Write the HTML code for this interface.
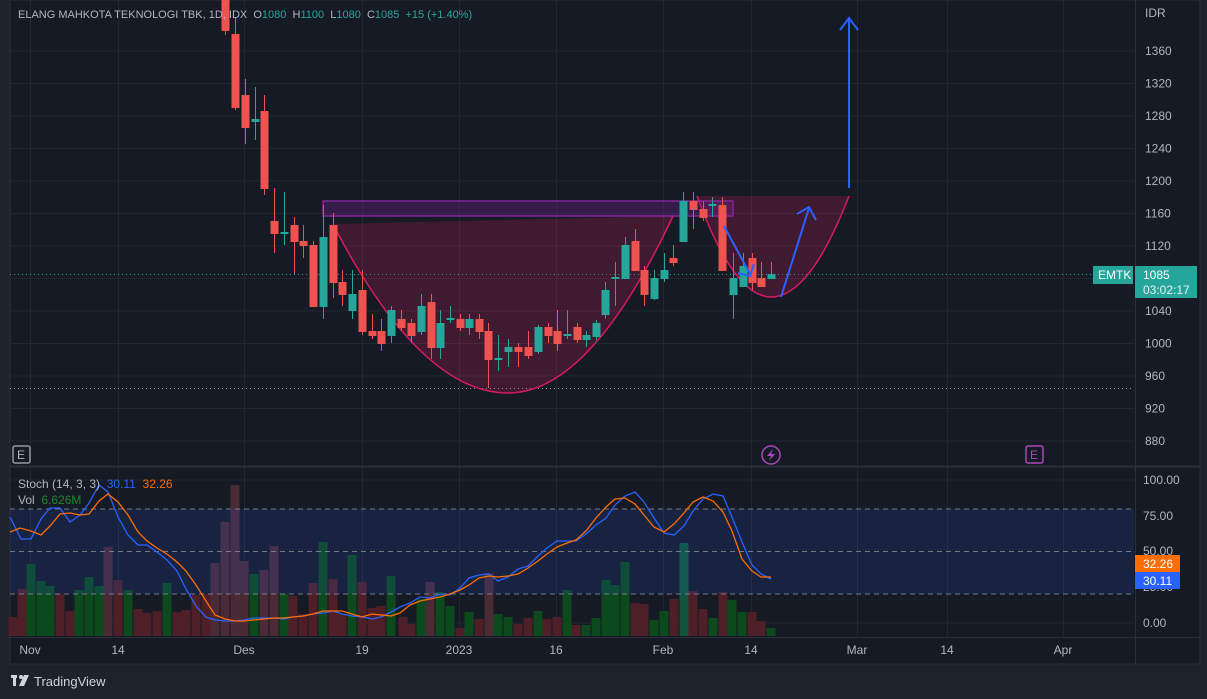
<!DOCTYPE html>
<html><head><meta charset="utf-8"><style>
html,body{margin:0;padding:0;background:#1e222d;width:1207px;height:699px;overflow:hidden;font-family:"Liberation Sans",sans-serif}
svg{position:absolute;left:0;top:0}
</style></head><body>
<svg id="s" width="1207" height="699" xmlns="http://www.w3.org/2000/svg" font-family="Liberation Sans, sans-serif">
<rect x="0" y="0" width="1207" height="699" fill="#1e222d"/>
<rect x="10" y="0" width="1190" height="664" fill="#161a25" stroke="#2a2e39" stroke-width="1"/>
<g id="grid" stroke="#232733" stroke-width="1"></g>
<line x1="10" y1="466.5" x2="1200" y2="466.5" stroke="#2a2e39" stroke-width="2"/>
<line x1="10" y1="637.5" x2="1200" y2="637.5" stroke="#2a2e39"/>
<line x1="1135.5" y1="0" x2="1135.5" y2="664" stroke="#2a2e39"/>
<g id="vol"></g>
<rect x="10" y="509" width="1124" height="85" fill="rgba(41,98,255,0.13)"/>
<g stroke="#787b86" stroke-dasharray="5,4" stroke-width="1">
<line x1="10" y1="509" x2="1134" y2="509"/><line x1="10" y1="551.5" x2="1134" y2="551.5"/><line x1="10" y1="594" x2="1134" y2="594"/></g>
<polyline id="k" fill="none" stroke="#2962ff" stroke-width="1.3"/>
<polyline id="d" fill="none" stroke="#ff6d00" stroke-width="1.3"/>
<line x1="10" y1="274.5" x2="1134" y2="274.5" stroke="#26a69a" stroke-dasharray="1,3" stroke-width="1"/>
<line x1="10" y1="388.5" x2="1134" y2="388.5" stroke="#9598a1" stroke-dasharray="1,3" stroke-width="1"/>
<path d="M333,224 L673,216 Q590,393 508,393 Q422,393 336,230 Z" fill="rgba(233,30,99,0.2)"/>
<path d="M336,230 Q422,393 508,393 Q590,393 673,216" fill="none" stroke="#d81b60" stroke-width="1.5"/>
<path d="M697,196 L849,196 Q810,297 771,297 Q734,297 697,196 Z" fill="rgba(233,30,99,0.2)"/>
<path d="M697,196 Q734,297 771,297 Q810,297 849,196" fill="none" stroke="#d81b60" stroke-width="1.5"/>
<rect x="323" y="201" width="410" height="15" fill="rgba(123,31,162,0.3)" stroke="#9c27b0" stroke-width="1.2"/>
<g id="cdl"></g>
<g stroke="#2962ff" stroke-width="2" fill="none">
<line x1="724" y1="226" x2="750" y2="274"/><polyline points="738,273 750,276 754,264"/>
<line x1="781" y1="297" x2="809" y2="208"/><polyline points="797,214 809,207 816,220"/>
<line x1="849" y1="188" x2="849" y2="18"/><polyline points="840,30 849,18 858,30"/>
</g>
<g id="pl" fill="#b2b5be" font-size="12"></g>
<text x="1145" y="17" fill="#b2b5be" font-size="12">IDR</text>
<text x="18" y="18" fill="#b2b5be" font-size="11" xml:space="preserve">ELANG MAHKOTA TEKNOLOGI TBK, 1D, IDX  O<tspan fill="#26a69a">1080</tspan>  H<tspan fill="#26a69a">1100</tspan>  L<tspan fill="#26a69a">1080</tspan>  C<tspan fill="#26a69a">1085  +15 (+1.40%)</tspan></text>
<rect x="1093" y="266" width="40" height="18" fill="#26a69a"/>
<text x="1098" y="279" fill="#fff" font-size="12">EMTK</text>
<rect x="1135" y="266" width="62" height="32" fill="#26a69a"/>
<text x="1143" y="279" fill="#fff" font-size="12">1085</text>
<text x="1143" y="294" fill="#e0f2f1" font-size="12">03:02:17</text>
<rect x="13" y="446" width="17" height="17" fill="none" stroke="#9598a1" stroke-width="1.5" rx="2"/>
<text x="17" y="459" fill="#b2b5be" font-size="12">E</text>
<circle cx="771" cy="455" r="9" fill="none" stroke="#ab47bc" stroke-width="1.5"/>
<path d="M773,449 L767,456 L771,456 L769,461 L775,454 L771,454 Z" fill="#ab47bc"/>
<rect x="1026" y="446" width="17" height="17" fill="none" stroke="#ab47bc" stroke-width="1.5" rx="2"/>
<text x="1030" y="459" fill="#ab47bc" font-size="12">E</text>
<text x="18" y="488" font-size="12" fill="#b2b5be" xml:space="preserve">Stoch (14, 3, 3)  <tspan fill="#2962ff">30.11</tspan>  <tspan fill="#ff6d00">32.26</tspan></text>
<text x="18" y="504" font-size="12" fill="#b2b5be" xml:space="preserve">Vol  <tspan fill="#1b8a2e">6.626M</tspan></text>
<g fill="#b2b5be" font-size="12">
<text x="1143" y="484">100.00</text><text x="1143" y="520">75.00</text><text x="1143" y="555">50.00</text><text x="1143" y="591">25.00</text><text x="1143" y="627">0.00</text></g>
<rect x="1135" y="555" width="45" height="17" fill="#ff6d00"/><text x="1143" y="568" fill="#fff" font-size="12">32.26</text>
<rect x="1135" y="572" width="45" height="17" fill="#2962ff"/><text x="1143" y="585" fill="#fff" font-size="12">30.11</text>
<g fill="#b2b5be" font-size="12" text-anchor="middle">
<text x="30" y="654">Nov</text><text x="118" y="654">14</text><text x="244" y="654">Des</text><text x="362" y="654">19</text><text x="459" y="654">2023</text><text x="556" y="654">16</text><text x="663" y="654">Feb</text><text x="751" y="654">14</text><text x="857" y="654">Mar</text><text x="947" y="654">14</text><text x="1063" y="654">Apr</text></g>
<g fill="#d1d4dc"><rect x="11" y="675" width="6" height="3"/><rect x="13" y="675" width="3" height="11"/><circle cx="21" cy="677" r="2"/><path d="M24,675 L29,675 L24,686 L19,686 Z"/></g>
<text x="34" y="686" fill="#d1d4dc" font-size="13">TradingView</text>
</svg>
<script>
var NS="http://www.w3.org/2000/svg";
function el(p,t,a){var e=document.createElementNS(NS,t);for(var k in a)e.setAttribute(k,a[k]);document.getElementById(p).appendChild(e);return e;}
var gx=[30,118,244,362,459,556,663,751,857,947,1063];
gx.forEach(function(x){el("grid","line",{x1:x+.5,y1:0,x2:x+.5,y2:637});});
for(var i=0;i<13;i++){var y=51+i*32.5;el("grid","line",{x1:10,y1:y,x2:1134,y2:y});
 el("pl","text",{x:1145,y:y+4}).textContent=(1360-40*i);}
el("grid","line",{x1:10,y1:480,x2:1134,y2:480});el("grid","line",{x1:10,y1:623,x2:1134,y2:623});
var C=[[225,-5,35,-5,31,0],[235,17,110,34,108,0],[245,79,144,95,128,0],[255,87,140,119,122,1],[264,95,195,111,189,0],
[274,188,253,221,234,0],[284,192,245,232,234,1],[294,217,274,225,242,0],[303,225,258,241,246,0],[313,241,307,245,307,0],[323,205,319,237,307,1],[333,213,298,225,283,0],[342,270,306,282,295,0],[352,270,319,294,311,1],[362,270,335,290,332,0],[372,314,339,331,336,0],[381,319,351,331,344,0],[391,306,343,310,336,1],[401,310,331,319,328,0],[411,319,343,323,336,0],[421,294,335,306,332,1],[431,294,359,302,348,0],[440,310,359,323,348,1],[450,306,323,318,320,1],[460,314,331,319,328,0],[469,314,335,319,328,1],[479,314,339,319,332,0],[488,323,388,331,360,0],[498,335,371,358,360,1],[508,339,367,347,352,1],[518,343,367,347,352,0],[528,331,359,347,356,0],[538,325,354,327,352,1],[548,323,343,327,336,0],[557,310,351,331,344,0],[567,310,339,334,336,1],[577,323,343,327,340,0],[586,331,347,335,340,1],[596,320,340,323,337,1],
[605,282,319,290,315,1],[615,262,306,277,279,1],[625,237,279,245,279,1],[635,229,271,241,271,0],[644,266,306,270,295,0],[654,270,300,278,299,1],[664,253,282,270,279,1],[673,245,266,258,263,0],[683,192,242,201,242,1],[693,192,229,201,210,0],[703,201,221,209,218,0],[712,197,217,204,206,1],[722,197,271,205,271,0],[733,253,319,278,295,1],[743,253,287,266,287,1],[752,253,290,258,283,0],[761,262,287,278,287,0],[771,262,279,274,279,1]];
C.forEach(function(c){var col=c[5]?"#26a69a":"#ef5350";
 el("cdl","line",{x1:c[0]+.5,y1:c[1],x2:c[0]+.5,y2:c[2],stroke:col,"stroke-width":1});
 el("cdl","rect",{x:c[0]-3.5,y:c[3],width:8,height:Math.max(1.5,c[4]-c[3]),fill:col});});
var V=[[13,617,0],[22,589,0],[31,564,1],[41,581,1],[50,586,1],[60,594,0],[70,611,0],[79,590,1],[89,577,1],[99,586,1],[108,547,2],[118,580,0],[128,590,1],[138,609,0],[147,613,0],[157,611,0],[167,583,1],[177,612,0],[186,610,0],[196,595,0],[206,594,0],[215,563,2],[225,522,2],[235,485,2],[244,561,2],[254,574,1],[264,570,2],[274,546,2],[284,594,1],[293,596,0],[303,614,0],[313,583,0],[323,542,1],[333,579,0],[342,614,0],[352,555,1],[362,582,0],[372,608,0],[381,606,0],[391,576,1],[403,617,0],[411,624,0],[421,599,1],[430,582,2],[440,592,1],[450,606,1],[460,628,0],[469,612,1],[479,619,0],[489,573,2],[498,614,1],[508,617,1],[518,624,0],[528,618,0],[538,611,1],[547,619,0],[557,617,0],[567,590,1],[576,625,0],[586,625,1],[596,618,1],[606,580,1],[615,585,1],[625,562,1],[635,603,0],[644,604,0],[654,620,1],[664,611,1],[674,599,0],[684,543,3],[693,591,0],[703,609,0],[713,618,1],[723,592,0],[732,600,1],[742,612,1],[752,612,0],[761,621,0],[771,628,1]];
var vc=["#4f1f27","#0c4a1d","#4a2a35","#13553a"];
V.forEach(function(v){el("vol","rect",{x:v[0]-4.5,y:v[1],width:9,height:636-v[1],fill:vc[v[2]]});});
var K="10,517 21,539 31,539 41,519 50,508 60,508 70,522 80,515 89,503 99,485 108,492 118,517 128,535 138,545 147,545 157,552 167,560 177,571 186,589 196,606 206,617 215,620 225,621 235,621 244,620 254,618 264,618 274,618 284,619 293,617 303,616 313,614 323,613 333,611 342,614 352,616 362,617 372,619 381,617 391,612 400,607 410,603 420,597 430,598 440,594 450,595 460,588 469,578 479,575 489,574 498,581 508,577 518,569 528,566 538,556 547,548 557,541 567,541 576,541 586,534 596,525 606,518 615,505 625,496 635,492 644,502 654,518 664,533 674,535 684,526 693,511 703,499 713,494 723,496 732,517 742,542 752,565 761,574 771,579";
var D="10,532 20,528 31,531 41,535 50,526 60,514 70,513 80,515 89,514 99,501 108,494 118,502 128,515 138,532 147,541 157,548 167,554 177,562 186,571 196,585 206,601 215,615 225,619 235,621 244,621 254,620 264,619 274,618 284,618 293,617 303,616 313,614 323,611 333,611 342,611 352,614 362,617 372,614 391,616 400,613 410,605 420,601 430,599 440,597 450,594 460,590 469,585 479,578 489,576 498,577 508,576 518,574 528,568 538,561 547,554 557,547 567,543 576,540 586,531 596,518 606,507 615,499 625,498 635,504 644,515 654,527 664,532 674,524 684,513 693,502 703,497 713,501 723,512 732,531 742,559 752,571 761,577 771,577";
document.getElementById("k").setAttribute("points",K);
document.getElementById("d").setAttribute("points",D);
</script>
</body></html>
